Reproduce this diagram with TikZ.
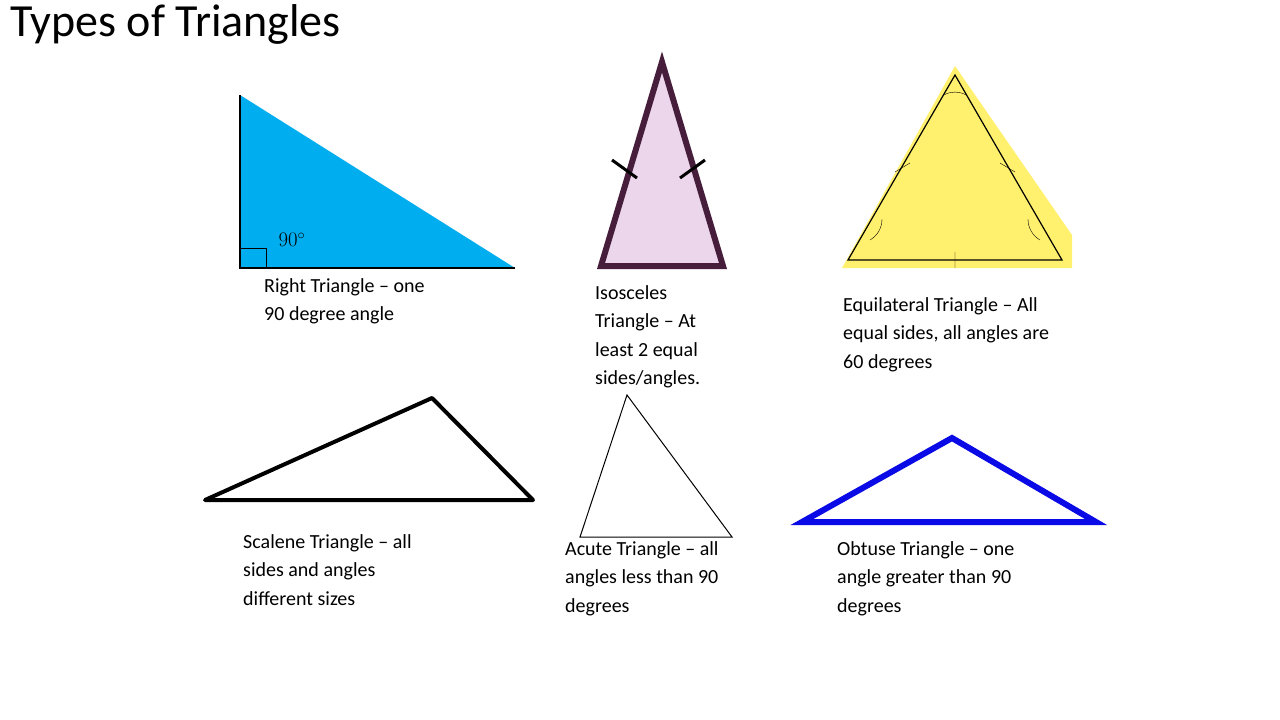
\documentclass[tikz,border=0pt]{standalone}
\usepackage{fontspec}
\setmainfont{Carlito}
\begin{document}
\begin{tikzpicture}[x=1pt,y=-1pt,
 lab/.style={anchor=north west,align=left,font=\fontsize{20}{28.5}\selectfont,inner sep=0pt}]
\useasboundingbox[fill=white] (0,0) rectangle (1280,720);
\node[anchor=north west,inner sep=0pt,font=\fontsize{46}{50}\selectfont] (title) at (10,4) {Types of Triangles};
% right
\fill[fill={rgb,255:red,0;green,174;blue,239}] (240,95) -- (240,268) -- (515,268) -- cycle;
\draw[line width=1.2] (240,95) -- (240,268) -- (515,268);
\draw (240,248) -- (266,248) -- (266,268);
\node[font=\rmfamily\fontsize{20}{22}\selectfont] (n90) at (292,240) {$90^\circ$};
\node[lab] (t1) at (264,278) {Right Triangle -- one\\90 degree angle};
% isosceles
\draw[line width=6,line join=miter,draw={rgb,255:red,70;green,30;blue,60},fill={rgb,255:red,236;green,214;blue,236}] (662,62) -- (601,266) -- (723,266) -- cycle;
\draw[line width=3] (612,160) -- (637,178) (680,178) -- (705,160);
\node[lab] (t2) at (595,285) {Isosceles\\Triangle -- At\\least 2 equal\\sides/angles.};
% equilateral
\fill[fill={rgb,255:red,255;green,240;blue,110}] (955,66) -- (842,268) -- (1072,268) -- (1072,235) -- cycle;
\draw[line width=1.2] (955,75) -- (848,260) -- (1062,260) -- cycle;
\draw (895,172)--(910,163) (1000,163)--(1015,172) (955,252)--(955,268);
\draw (944,95) arc[start angle=240,end angle=300,radius=22];
\draw (870,240) arc[start angle=60,end angle=0,radius=24];
\draw (1040,240) arc[start angle=120,end angle=180,radius=24];
\node[lab] (t3) at (843,297) {Equilateral Triangle -- All\\equal sides, all angles are\\60 degrees};
% scalene
\draw[line width=4,line join=round] (205,500) -- (432,398) -- (533,500) -- cycle;
\node[lab] (t4) at (243,534) {Scalene Triangle -- all\\sides and angles\\different sizes};
% acute
\draw[line width=1] (627,395) -- (580,537) -- (732,537) -- cycle;
\node[lab] (t5) at (565,541) {Acute Triangle -- all\\angles less than 90\\degrees};
% obtuse
\draw[line width=6,line join=miter,draw={rgb,255:red,10;green,10;blue,230}] (952,438) -- (802,522) -- (1096,522) -- cycle;
\node[lab] (t6) at (837,541) {Obtuse Triangle -- one\\angle greater than 90\\degrees};
\end{tikzpicture}
\end{document}
